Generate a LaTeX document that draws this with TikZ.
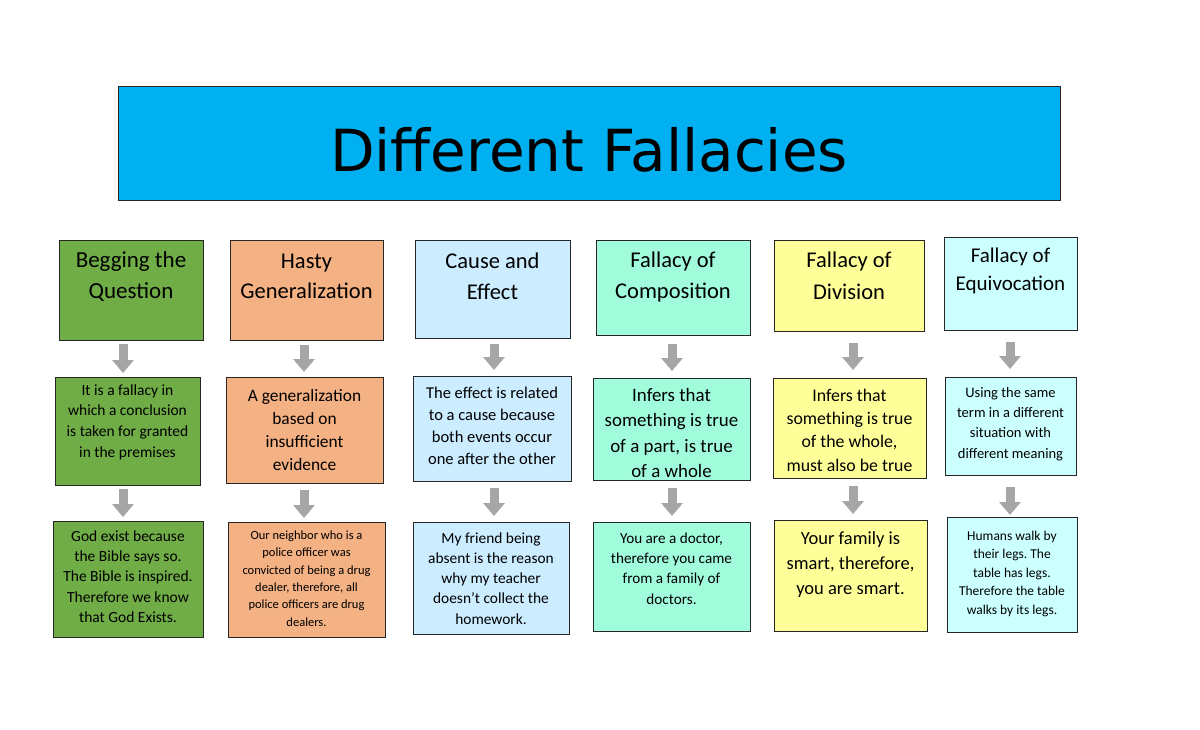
\documentclass[tikz,border=0pt]{standalone}
\usepackage{fontspec}
\setmainfont{Carlito}
\newfontfamily\titlefont{DejaVu Sans}
\usetikzlibrary{arrows.meta}
\frenchspacing
\definecolor{titleblue}{RGB}{0,176,240}
\definecolor{cgreen}{RGB}{112,173,71}
\definecolor{cpeach}{RGB}{244,177,131}
\definecolor{cblue}{RGB}{204,236,255}
\definecolor{cmint}{RGB}{160,252,218}
\definecolor{cyellow}{RGB}{255,255,153}
\definecolor{ccyan}{RGB}{204,255,255}
\definecolor{arrowgray}{RGB}{166,166,166}
\tikzset{
  boxshape/.style={draw=black!85, line width=0.9pt, rectangle, inner sep=0pt, outer sep=0pt},
  txt/.style={align=center, inner sep=0pt, text=black},
  blk/.style={draw=arrowgray, line width=9pt, -{Triangle[width=21pt,length=13pt]}},
}
\newcommand{\fs}[2]{\fontsize{#1}{#2}\selectfont}
\begin{document}
\begin{tikzpicture}[x=1pt,y=-1pt]
\useasboundingbox (0,0) rectangle (1200,729);
\fill[white] (0,0) rectangle (1200,729);

% title
\node[boxshape, fill=titleblue, minimum width=942pt, minimum height=114pt] (titlebox) at (589,143) {};
\node[txt, font=\titlefont\fs{58}{60}] (title) at (589,150) {Different Fallacies};

% column 1
\node[boxshape, fill=cgreen, minimum width=144pt, minimum height=100pt] (h1) at (131,290) {};
\node[boxshape, fill=cgreen, minimum width=145pt, minimum height=108pt] (m1) at (127.5,431) {};
\node[boxshape, fill=cgreen, minimum width=150pt, minimum height=116pt] (b1) at (128,579) {};
\coordinate (a1) at (123,0);
\node[txt, font=\fs{23}{31}] (t1a) at (131,276.5) {Begging the\\Question};
\node[txt, font=\fs{15.5}{20.6}] (t1b) at (127.5,422) {It is a fallacy in\\which a conclusion\\is taken for granted\\in the premises};
\node[txt, font=\fs{15.5}{20.3}] (t1c) at (128,576.5) {God exist because\\the Bible says so.\\The Bible is inspired.\\Therefore we know\\that God Exists.};
\draw[blk, shorten <=4pt, shorten >=4pt] (h1.south -| a1) -- (m1.north -| a1);
\draw[blk, shorten <=4pt, shorten >=4pt] (m1.south -| a1) -- (b1.north -| a1);

% column 2
\node[boxshape, fill=cpeach, minimum width=153pt, minimum height=100pt] (h2) at (306.5,290) {};
\node[boxshape, fill=cpeach, minimum width=157pt, minimum height=106pt] (m2) at (304.5,430) {};
\node[boxshape, fill=cpeach, minimum width=157pt, minimum height=115pt] (b2) at (306.5,579.5) {};
\coordinate (a2) at (304,0);
\node[txt, font=\fs{22.5}{30}] (t2a) at (306.5,276) {Hasty\\Generalization};
\node[txt, font=\fs{17.4}{23.3}] (t2b) at (304.5,430) {A generalization\\based on\\insufficient\\evidence};
\node[txt, font=\fs{12.5}{17.4}] (t2c) at (306.5,578.5) {Our neighbor who is a\\police officer was\\convicted of being a drug\\dealer, therefore, all\\police officers are drug\\dealers.};
\draw[blk, shorten <=5pt, shorten >=5pt] (h2.south -| a2) -- (m2.north -| a2);
\draw[blk, shorten <=7pt, shorten >=4pt] (m2.south -| a2) -- (b2.north -| a2);

% column 3
\node[boxshape, fill=cblue, minimum width=155pt, minimum height=98pt] (h3) at (492.5,289) {};
\node[boxshape, fill=cblue, minimum width=158pt, minimum height=105pt] (m3) at (492,428.5) {};
\node[boxshape, fill=cblue, minimum width=156pt, minimum height=112pt] (b3) at (491,578) {};
\coordinate (a3) at (494,0);
\node[txt, font=\fs{22.5}{31}] (t3a) at (492.5,276.5) {Cause and\\Effect};
\node[txt, font=\fs{16.5}{22}] (t3b) at (492,426) {The effect is related\\to a cause because\\both events occur\\one after the other};
\node[txt, font=\fs{15.4}{20.2}] (t3c) at (491,578.5) {My friend being\\absent is the reason\\why my teacher\\doesn’t collect the\\homework.};
\draw[blk, shorten <=6pt, shorten >=6pt] (h3.south -| a3) -- (m3.north -| a3);
\draw[blk, shorten <=7pt, shorten >=6pt] (m3.south -| a3) -- (b3.north -| a3);

% column 4
\node[boxshape, fill=cmint, minimum width=154pt, minimum height=95pt] (h4) at (673,287.5) {};
\node[boxshape, fill=cmint, minimum width=157pt, minimum height=102pt] (m4) at (671.5,429) {};
\node[boxshape, fill=cmint, minimum width=157pt, minimum height=109pt] (b4) at (671.5,576.5) {};
\coordinate (a4) at (672,0);
\node[txt, font=\fs{22.5}{31}] (t4a) at (673,276.5) {Fallacy of\\Composition};
\node[txt, font=\fs{18.9}{25.3}] (t4b) at (671.5,433) {Infers that\\something is true\\of a part, is true\\of a whole};
\node[txt, font=\fs{15.2}{20.3}] (t4c) at (671.5,568.5) {You are a doctor,\\therefore you came\\from a family of\\doctors.};
\draw[blk, shorten <=9pt, shorten >=7pt] (h4.south -| a4) -- (m4.north -| a4);
\draw[blk, shorten <=8pt, shorten >=6pt] (m4.south -| a4) -- (b4.north -| a4);

% column 5
\node[boxshape, fill=cyellow, minimum width=150pt, minimum height=91pt] (h5) at (849,285.5) {};
\node[boxshape, fill=cyellow, minimum width=153pt, minimum height=100pt] (m5) at (849.5,428) {};
\node[boxshape, fill=cyellow, minimum width=153pt, minimum height=111pt] (b5) at (850.5,575.5) {};
\coordinate (a5) at (853,0);
\node[txt, font=\fs{22.5}{32}] (t5a) at (849,276) {Fallacy of\\Division};
\node[txt, font=\fs{17.8}{23.3}] (t5b) at (849.5,430) {Infers that\\something is true\\of the whole,\\must also be true};
\node[txt, font=\fs{18.5}{25}] (t5c) at (850.5,564.5) {Your family is\\smart, therefore,\\you are smart.};
\draw[blk, shorten <=12pt, shorten >=8pt] (h5.south -| a5) -- (m5.north -| a5);
\draw[blk, shorten <=8pt, shorten >=6pt] (m5.south -| a5) -- (b5.north -| a5);

% column 6
\node[boxshape, fill=ccyan, minimum width=133pt, minimum height=93pt] (h6) at (1010.5,283.5) {};
\node[boxshape, fill=ccyan, minimum width=131pt, minimum height=98pt] (m6) at (1010.5,426) {};
\node[boxshape, fill=ccyan, minimum width=130pt, minimum height=115pt] (b6) at (1012,574.5) {};
\coordinate (a6) at (1010,0);
\node[txt, font=\fs{21}{28}] (t6a) at (1010.5,270.5) {Fallacy of\\Equivocation};
\node[txt, font=\fs{14.5}{20.3}] (t6b) at (1010.5,424) {Using the same\\term in a different\\situation with\\different meaning};
\node[txt, font=\fs{13.5}{18.5}] (t6c) at (1012,573.5) {Humans walk by\\their legs. The\\table has legs.\\Therefore the table\\walks by its legs.};
\draw[blk, shorten <=12pt, shorten >=8pt] (h6.south -| a6) -- (m6.north -| a6);
\draw[blk, shorten <=12pt, shorten >=2pt] (m6.south -| a6) -- (b6.north -| a6);
\end{tikzpicture}
\end{document}
